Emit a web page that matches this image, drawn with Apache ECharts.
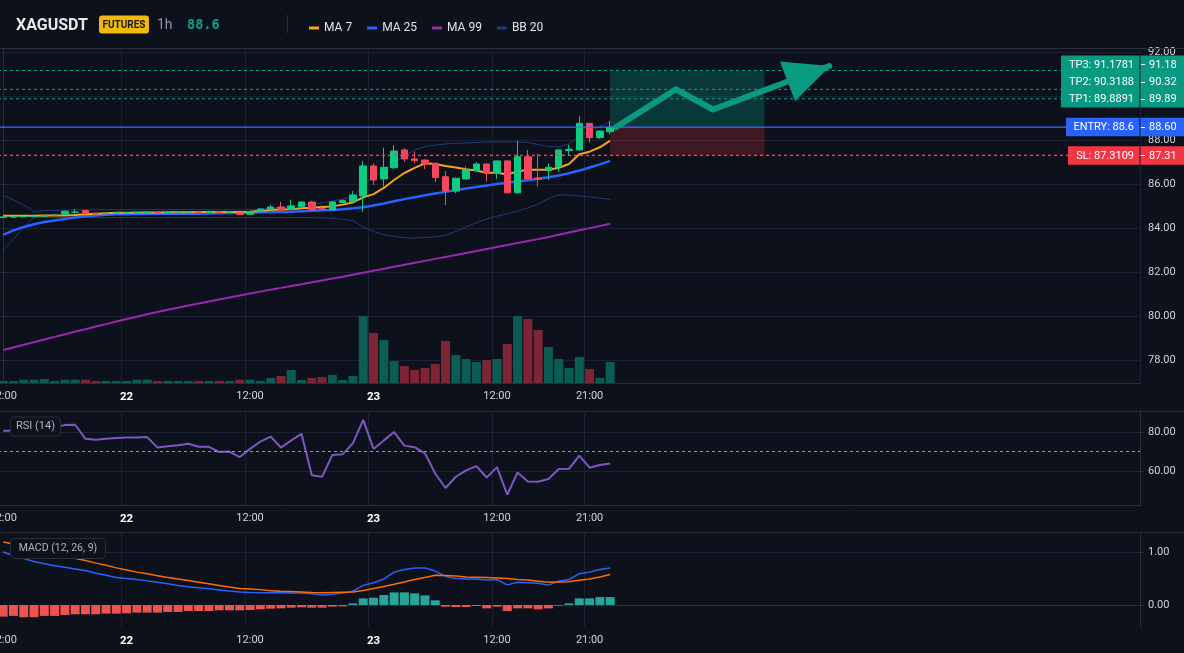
<!DOCTYPE html>
<html><head><meta charset="utf-8">
<script src="https://cdn.jsdelivr.net/npm/echarts@6.0.0/dist/echarts.min.js"></script>
<style>html,body{margin:0;padding:0;background:#0c111c;}#c{width:1184px;height:653px;}</style>
</head><body><div id="c"></div>
<script>
// ---------- data ----------
const symbolName = 'XAGUSDT';
const marketType = 'FUTURES';
const timeframe = '1h';
const lastPrice = '88.6';

const candleOpen  = [84.49,84.50,84.51,84.52,84.54,84.57,84.63,84.72,84.80,84.68, 84.66,84.68,84.69,84.70,84.72,84.73,84.71,84.72,84.73,84.74, 84.72,84.74,84.72,84.70,84.63,84.75,84.84,84.96,84.86,84.98, 85.19,84.88,84.83,85.16,85.20,85.46,86.83,86.24,86.75,87.56, 87.15,87.10,86.95,86.34,85.69,86.24,86.62,86.92,86.50,87.06, 85.61,87.25,86.28,86.62,86.80,87.53,87.56,88.77,88.12,88.39];
const candleClose = [84.51,84.52,84.53,84.54,84.57,84.60,84.77,84.73,84.68,84.66, 84.68,84.69,84.70,84.72,84.73,84.71,84.72,84.73,84.74,84.72, 84.74,84.72,84.73,84.62,84.76,84.87,84.96,84.84,85.01,85.19, 84.83,84.86,85.19,85.25,85.51,86.83,86.19,86.77,87.51,87.15, 87.07,86.92,86.30,85.69,86.27,86.65,86.92,86.50,87.06,85.61, 87.25,86.24,86.22,86.77,87.56,87.59,88.77,88.12,88.42,88.60];
const candleLow   = [84.48,84.49,84.50,84.51,84.53,84.56,84.62,84.66,84.67,84.65, 84.65,84.67,84.68,84.69,84.71,84.70,84.70,84.71,84.72,84.71, 84.71,84.71,84.71,84.61,84.62,84.74,84.83,84.82,84.85,84.97, 84.81,84.83,84.82,85.15,85.19,84.75,85.96,85.89,86.70,87.02, 86.95,86.69,86.11,85.05,85.59,86.22,86.60,86.11,86.24,85.59, 85.58,86.22,85.89,86.19,86.57,87.33,87.54,87.89,88.06,88.27];
const candleHigh  = [84.52,84.53,84.54,84.56,84.59,84.61,84.78,84.87,84.82,84.69, 84.69,84.70,84.71,84.73,84.74,84.74,84.73,84.74,84.75,84.75, 84.80,84.75,84.74,84.71,84.77,84.89,85.05,85.20,85.28,85.21, 85.25,85.05,85.23,85.31,85.69,87.06,86.95,87.66,87.78,87.63, 87.48,87.12,86.97,86.60,86.30,86.80,87.00,86.94,87.08,87.08, 87.97,87.56,87.38,86.95,87.58,87.78,89.10,88.79,88.44,88.88];
const volume      = [2,2,3.3,3.3,4,2,3.3,3.3,3.3,2, 2,2,2,3.3,3.3,2,2,2,2,2, 2,2,2,3.3,3.3,2,5,7,13,3, 5,6,8,3,7,67,50,43,22,17, 13,15,19,42,28,24,21,23,24,39, 67,64,53,36,24,15,26,14,5,21];

const ma7  = [84.56,84.56,84.56,84.56,84.57,84.57,84.58,84.60,84.63,84.66, 84.68,84.70,84.70,84.71,84.71,84.71,84.72,84.72,84.72,84.73, 84.73,84.73,84.73,84.73,84.75,84.78,84.82,84.85,84.86,84.90, 84.93,84.96,84.99,85.07,85.17,85.40,85.55,85.83,86.19,86.51, 86.74,86.95,86.92,86.83,86.76,86.68,86.62,86.52,86.52,86.44, 86.58,86.66,86.66,86.66,86.75,86.92,87.36,87.48,87.68,87.98];
const ma25 = [83.69,83.90,84.05,84.18,84.28,84.35,84.42,84.48,84.54,84.58, 84.61,84.63,84.63,84.64,84.64,84.65,84.65,84.66,84.66,84.66, 84.67,84.68,84.69,84.70,84.71,84.72,84.73,84.74,84.75,84.77, 84.79,84.81,84.83,84.86,84.90,84.95,85.03,85.12,85.22,85.32, 85.41,85.50,85.58,85.65,85.73,85.80,85.87,85.94,86.01,86.07, 86.12,86.18,86.25,86.32,86.40,86.50,86.62,86.76,86.90,87.06];
const ma99 = [78.45,78.57,78.69,78.81,78.93,79.05,79.17,79.29,79.40,79.52, 79.63,79.75,79.86,79.97,80.08,80.18,80.28,80.38,80.48,80.57, 80.66,80.75,80.84,80.93,81.02,81.11,81.20,81.28,81.37,81.45, 81.54,81.62,81.71,81.79,81.88,81.97,82.06,82.15,82.24,82.33, 82.42,82.51,82.60,82.69,82.78,82.87,82.96,83.05,83.14,83.23, 83.32,83.41,83.50,83.60,83.70,83.80,83.90,84.00,84.10,84.20];
const bbUpper = [85.50,85.28,85.05,84.75,84.80,84.80,84.81,84.83,84.84,84.84, 84.84,84.84,84.84,84.84,84.84,84.84,84.84,84.84,84.84,84.84, 84.84,84.84,84.84,84.84,84.84,84.87,84.90,84.95,85.00,85.05, 85.10,85.15,85.24,85.32,85.43,85.96,86.34,86.62,86.95,87.30, 87.55,87.71,87.78,87.83,87.86,87.88,87.90,87.92,87.93,87.93, 87.93,87.90,87.80,87.72,87.70,87.82,88.20,88.40,88.62,88.85];
const bbLower = [83.00,83.50,84.05,84.50,84.48,84.48,84.48,84.48,84.48,84.48, 84.48,84.48,84.48,84.48,84.48,84.48,84.48,84.48,84.48,84.48, 84.48,84.48,84.48,84.48,84.48,84.48,84.48,84.48,84.48,84.48, 84.48,84.46,84.44,84.40,84.35,84.05,83.85,83.70,83.62,83.56, 83.55,83.57,83.60,83.68,83.85,84.05,84.25,84.42,84.55,84.65, 84.78,84.92,85.10,85.35,85.52,85.50,85.46,85.42,85.36,85.31];

const rsi = [80.7,80.7,81.0,81.5,82.0,82.6,83.6,83.8,76.5,76.0, 76.5,77.0,77.2,77.2,77.4,72.0,72.7,73.2,74.0,72.4, 72.4,69.7,69.9,67.1,71.3,75.1,77.7,72.0,75.7,79.1, 57.7,56.9,68.2,68.5,74.3,86.3,71.3,75.7,80.0,73.0, 72.2,69.0,58.6,51.1,56.9,60.2,62.4,56.5,61.9,47.7, 59.1,54.4,54.3,55.7,60.9,61.0,67.8,61.6,63.0,63.8];
const rsiLevel = 70;

const macdLine = [1.00,0.93,0.875,0.82,0.78,0.74,0.71,0.68,0.65,0.60, 0.56,0.52,0.50,0.48,0.455,0.43,0.40,0.37,0.345,0.325, 0.305,0.285,0.265,0.247,0.238,0.231,0.23,0.23,0.228,0.225, 0.21,0.19,0.205,0.225,0.26,0.37,0.42,0.49,0.62,0.67, 0.70,0.70,0.64,0.54,0.50,0.49,0.49,0.47,0.48,0.38, 0.43,0.42,0.41,0.375,0.45,0.48,0.59,0.62,0.67,0.70];
const macdSignal = [1.19,1.15,1.10,1.05,1.00,0.96,0.92,0.88,0.84,0.79, 0.75,0.70,0.66,0.62,0.59,0.55,0.52,0.49,0.46,0.43, 0.40,0.37,0.34,0.31,0.30,0.29,0.27,0.26,0.253,0.245, 0.237,0.23,0.235,0.24,0.244,0.275,0.31,0.35,0.39,0.435, 0.48,0.52,0.56,0.556,0.545,0.53,0.525,0.52,0.51,0.50, 0.48,0.47,0.45,0.43,0.435,0.44,0.465,0.49,0.53,0.575];
const macdHist = [-0.219,-0.206,-0.231,-0.231,-0.206,-0.206,-0.188,-0.175,-0.175,-0.175, -0.163,-0.163,-0.156,-0.144,-0.144,-0.144,-0.131,-0.131,-0.113,-0.113, -0.113,-0.10,-0.10,-0.10,-0.094,-0.081,-0.069,-0.063,-0.05,-0.044, -0.05,-0.05,-0.031,-0.025,0.031,0.125,0.138,0.188,0.238,0.238, 0.219,0.181,0.088,-0.031,-0.038,-0.038,-0.019,-0.063,-0.031,-0.113, -0.063,-0.063,-0.081,-0.063,-0.013,0.031,0.125,0.125,0.15,0.15];

const tickIndex = [0,12,24,36,48,57];
const tickText  = ['12:00','22','12:00','23','12:00','21:00'];
const priceTicks = [78,80,82,84,86,88,90,92];
const rsiTicks = [60,80];
const macdTicks = [0,1];

const levelNames  = ['TP3','TP2','TP1','ENTRY','SL'];
const levelValues = [91.1781,90.3188,89.8891,88.6,87.3109];

const zoneStart = 59, zoneEnd = 74;
const arrowX = [59.6,65.4,69.0,80.3];
const arrowY = [88.6,90.32,89.4,91.38];
const arrowHeadX = [75.5,80.4,76.97];
const arrowHeadY = [91.58,91.38,89.79];

// ---------- styles ----------
const BG = '#0c111c', GRID = '#1b2130', BORDER = '#2a2e39', TXT = '#d1d4dc';
const UP = '#0ecb81', DOWN = '#f6465d';
const levelColor = {TP3:'#089981', TP2:'#089981', TP1:'#089981', ENTRY:'#2962ff', SL:'#f23645'};
const levelLineColor = {TP3:'#0fa88c', TP2:'#0fa88c', TP1:'#0fa88c', ENTRY:'#3a70ff', SL:'#ff3b4e'};
const FONT = 'Roboto';

const N = 111;
const cats = [];
for (let i = 0; i < N; i++) { const hr = (12 + i) % 24; cats.push((hr < 10 ? '0' : '') + hr + ':00'); }
const labelAt = {};
tickIndex.forEach((k, i) => labelAt[k] = tickText[i]);
const isTick = (i) => labelAt[i] !== undefined;

function xAxisFor(grid) {
  return {
    type: 'category', gridIndex: grid, data: cats, boundaryGap: true,
    axisLine: {show: true, lineStyle: {color: BORDER}}, axisTick: {show: false},
    axisLabel: {
      show: true, interval: (i) => isTick(i), margin: 8,
      formatter: (v, i) => { const t = labelAt[i]; return t.indexOf(':') >= 0 ? t : '{d|' + t + '}'; },
      color: TXT, fontSize: 11, fontFamily: FONT,
      rich: {d: {fontWeight: 'bold', color: '#ffffff', fontSize: 11.5, fontFamily: FONT}}
    },
    splitLine: {show: true, interval: (i) => isTick(i), lineStyle: {color: GRID, width: 1}}
  };
}
function yAxisFor(grid, min, max, ticks) {
  return {
    type: 'value', gridIndex: grid, position: 'right', min: min, max: max,
    axisLine: {show: true, lineStyle: {color: BORDER}},
    axisTick: {show: true, length: 4, customValues: ticks, lineStyle: {color: BORDER}},
    axisLabel: {show: true, customValues: ticks, formatter: (v) => Number(v).toFixed(2), color: TXT, fontSize: 11, fontFamily: FONT, margin: 8},
    splitLine: {show: true, lineStyle: {color: GRID, width: 1}}
  };
}

const candleData = candleOpen.map((o, i) => [o, candleClose[i], candleLow[i], candleHigh[i]]);
const volData = volume.map((v, i) => ({value: v, itemStyle: {color: candleClose[i] >= candleOpen[i] ? '#0b5d53' : '#7e2535'}}));
const histData = macdHist.map((v) => ({value: v, itemStyle: {color: v >= 0 ? '#26a69a' : '#ef5350'}}));
const lineSeries = (name, data, color, width, xi, yi, z) => ({
  name: name, type: 'line', data: data, xAxisIndex: xi, yAxisIndex: yi, showSymbol: false, symbol: 'none',
  smooth: false, lineStyle: {color: color, width: width}, itemStyle: {color: color}, z: z || 3, silent: true
});

const gridBase = {left: -2, right: 44, outerBoundsMode: 'none', containLabel: false};

// level lines: one flat line series per level, spanning the whole value x-range of the main grid
const levelSeries = levelValues.map((v, i) => {
  const nm = levelNames[i];
  const isTP = nm.indexOf('TP') === 0;
  return {
    name: 'level-' + nm, type: 'line', xAxisIndex: 4, yAxisIndex: 0, z: 6, silent: true,
    data: [[-0.5, v], [N - 0.5, v]], showSymbol: false, symbol: 'none',
    lineStyle: {color: levelLineColor[nm], width: isTP ? 1 : 1.4, type: nm === 'ENTRY' ? 'solid' : [3, 3]},
    itemStyle: {color: levelLineColor[nm]}
  };
});

const option = {
  backgroundColor: BG,
  animation: false,
  textStyle: {fontFamily: FONT},
  legend: {
    data: ['MA 7', 'MA 25', 'MA 99', 'BB 20'], left: 304, top: 17, icon: 'rect',
    itemWidth: 10, itemHeight: 3, itemGap: 15, selectedMode: false,
    textStyle: {color: '#e0e3eb', fontSize: 12, fontFamily: FONT}
  },
  grid: [
    Object.assign({top: 48, height: 335}, gridBase),
    Object.assign({top: 300, height: 83}, gridBase),
    Object.assign({top: 411, height: 94}, gridBase),
    Object.assign({top: 532, height: 95}, gridBase)
  ],
  xAxis: [
    xAxisFor(0),
    {type: 'category', gridIndex: 1, data: cats, boundaryGap: true, show: false},
    xAxisFor(2),
    xAxisFor(3),
    {type: 'value', gridIndex: 0, min: -0.5, max: N - 0.5, show: false}
  ],
  yAxis: [
    yAxisFor(0, 76.95, 92.2, priceTicks),
    {type: 'value', gridIndex: 1, min: 0, max: 83, show: false},
    yAxisFor(2, 42.3, 90.9, rsiTicks),
    yAxisFor(3, -0.415, 1.377, macdTicks)
  ],
  series: [
    {
      name: 'K', type: 'candlestick', data: candleData, xAxisIndex: 0, yAxisIndex: 0, barWidth: 7, z: 5, silent: true,
      itemStyle: {color: UP, color0: DOWN, borderColor: UP, borderColor0: DOWN, borderWidth: 1}
    },
    lineSeries('BB 20', bbUpper, '#1f3a7a', 1, 0, 0, 3),
    lineSeries('BB 20', bbLower, '#1f3a7a', 1, 0, 0, 3),
    lineSeries('MA 99', ma99, '#9c27b0', 2, 0, 0, 4),
    lineSeries('MA 25', ma25, '#2962ff', 2.5, 0, 0, 4),
    lineSeries('MA 7', ma7, '#f7a21b', 2, 0, 0, 4),
    {name: 'Volume', type: 'bar', data: volData, xAxisIndex: 1, yAxisIndex: 1, barWidth: 9, z: 2, silent: true},
    Object.assign(lineSeries('RSI', rsi, '#7e57c2', 2, 2, 2, 3), {
      markLine: {silent: true, symbol: ['none', 'none'], label: {show: false},
        data: [{yAxis: rsiLevel, lineStyle: {color: '#9598a1', width: 1, type: [3, 3]}}]}
    }),
    {name: 'Hist', type: 'bar', data: histData, xAxisIndex: 3, yAxisIndex: 3, barWidth: 9, z: 2, silent: true},
    lineSeries('MACD', macdLine, '#2962ff', 1.5, 3, 3, 3),
    lineSeries('Signal', macdSignal, '#ff6d00', 1.5, 3, 3, 3),
    ...levelSeries,
    {
      name: 'Arrow', type: 'line', xAxisIndex: 4, yAxisIndex: 0, z: 10, silent: true,
      data: arrowX.map((x, i) => [x, arrowY[i]]), showSymbol: false, symbol: 'none',
      lineStyle: {color: '#0a9a80', width: 6, cap: 'round', join: 'round'},
      itemStyle: {color: '#0a9a80'},
      markArea: {
        silent: true,
        data: [
          [{coord: [zoneStart, levelValues[3]], itemStyle: {color: 'rgba(8,153,129,0.28)'}}, {coord: [zoneEnd, levelValues[0]]}],
          [{coord: [zoneStart, levelValues[4]], itemStyle: {color: 'rgba(242,54,69,0.22)'}}, {coord: [zoneEnd, levelValues[3]]}]
        ]
      }
    },
    {
      name: 'ArrowHead', type: 'custom', xAxisIndex: 4, yAxisIndex: 0, z: 11, silent: true,
      data: [[arrowHeadX[0], arrowHeadY[0]]],
      renderItem: (params, api) => {
        const pts = arrowHeadX.map((x, i) => api.coord([x, arrowHeadY[i]]));
        return {type: 'polygon', shape: {points: pts}, style: {fill: '#0a9a80'}};
      }
    }
  ]
};

const chart = echarts.init(document.getElementById('c'), null, {renderer: 'canvas'});
chart.setOption(option);

// ---------- header, panel labels, price level tags ----------
const g = [];
[48.5, 411.5, 532.5].forEach((y) => g.push({type: 'line', shape: {x1: 0, y1: y, x2: 1184, y2: y}, style: {stroke: BORDER, lineWidth: 1}, z: 20}));
g.push({type: 'text', x: 16, y: 25.5, style: {text: symbolName, font: 'bold 16px ' + FONT, fill: '#e8eaf0', verticalAlign: 'middle'}, z: 20});
g.push({type: 'rect', shape: {x: 99, y: 15.5, width: 50, height: 18, r: 3}, style: {fill: '#f0b90b'}, z: 20});
g.push({type: 'text', x: 124, y: 25, style: {text: marketType, font: 'bold 10px ' + FONT, fill: '#1b1b1b', align: 'center', verticalAlign: 'middle'}, z: 21});
g.push({type: 'text', x: 157, y: 25.5, style: {text: timeframe, font: '14px ' + FONT, fill: '#8b93a7', verticalAlign: 'middle'}, z: 20});
g.push({type: 'text', x: 187, y: 25.5, style: {text: lastPrice, font: 'bold 13.5px "DejaVu Sans Mono"', fill: '#14a085', verticalAlign: 'middle'}, z: 20});
g.push({type: 'line', shape: {x1: 287.5, y1: 15, x2: 287.5, y2: 33}, style: {stroke: BORDER, lineWidth: 1}, z: 20});

g.push({type: 'rect', shape: {x: 10.5, y: 417, width: 50, height: 19, r: 4}, style: {fill: BG, stroke: BORDER, lineWidth: 1}, z: 20});
g.push({type: 'text', x: 35.5, y: 426.5, style: {text: 'RSI (14)', font: '11px ' + FONT, fill: '#b2b5be', align: 'center', verticalAlign: 'middle'}, z: 21});
g.push({type: 'rect', shape: {x: 10.5, y: 538.5, width: 95, height: 20, r: 4}, style: {fill: BG, stroke: BORDER, lineWidth: 1}, z: 20});
g.push({type: 'text', x: 58, y: 548.5, style: {text: 'MACD (12, 26, 9)', font: '10.5px ' + FONT, fill: '#b2b5be', align: 'center', verticalAlign: 'middle'}, z: 21});

const ctx = document.createElement('canvas').getContext('2d');
ctx.font = '11px ' + FONT;
const items = levelValues.map((v, i) => ({i: i, v: v, y: chart.convertToPixel({yAxisIndex: 0}, v)}));
items.sort((a, b) => b.y - a.y);
let prevY = Infinity;
const STEP = 17.2;
items.forEach((it) => { let y = it.y; if (prevY - y < STEP) y = prevY - STEP; it.ly = y; prevY = y; });
items.forEach((it) => {
  const name = levelNames[it.i];
  const col = levelColor[name];
  const t1 = name + ': ' + String(levelValues[it.i]);
  const tw = ctx.measureText(t1).width;
  const x0 = Math.round(1134 - tw - 8);
  const h = name.indexOf('TP') === 0 ? 17.6 : 18.5;
  g.push({type: 'rect', shape: {x: x0, y: it.ly - h / 2, width: 1139.5 - x0, height: h}, style: {fill: col}, z: 22});
  g.push({type: 'rect', shape: {x: 1140.5, y: it.ly - h / 2, width: 44, height: h}, style: {fill: col}, z: 22});
  g.push({type: 'text', x: 1134, y: it.ly + 0.5, style: {text: t1, font: '11px ' + FONT, fill: '#ffffff', align: 'right', verticalAlign: 'middle'}, z: 23});
  g.push({type: 'line', shape: {x1: 1141, y1: Math.round(it.ly) + 0.5, x2: 1145, y2: Math.round(it.ly) + 0.5}, style: {stroke: '#ffffff', lineWidth: 1}, z: 23});
  g.push({type: 'text', x: 1149, y: it.ly + 0.5, style: {text: levelValues[it.i].toFixed(2), font: '11px ' + FONT, fill: '#ffffff', align: 'left', verticalAlign: 'middle'}, z: 23});
});
chart.setOption({graphic: {elements: g}});
</script>
</body></html>
